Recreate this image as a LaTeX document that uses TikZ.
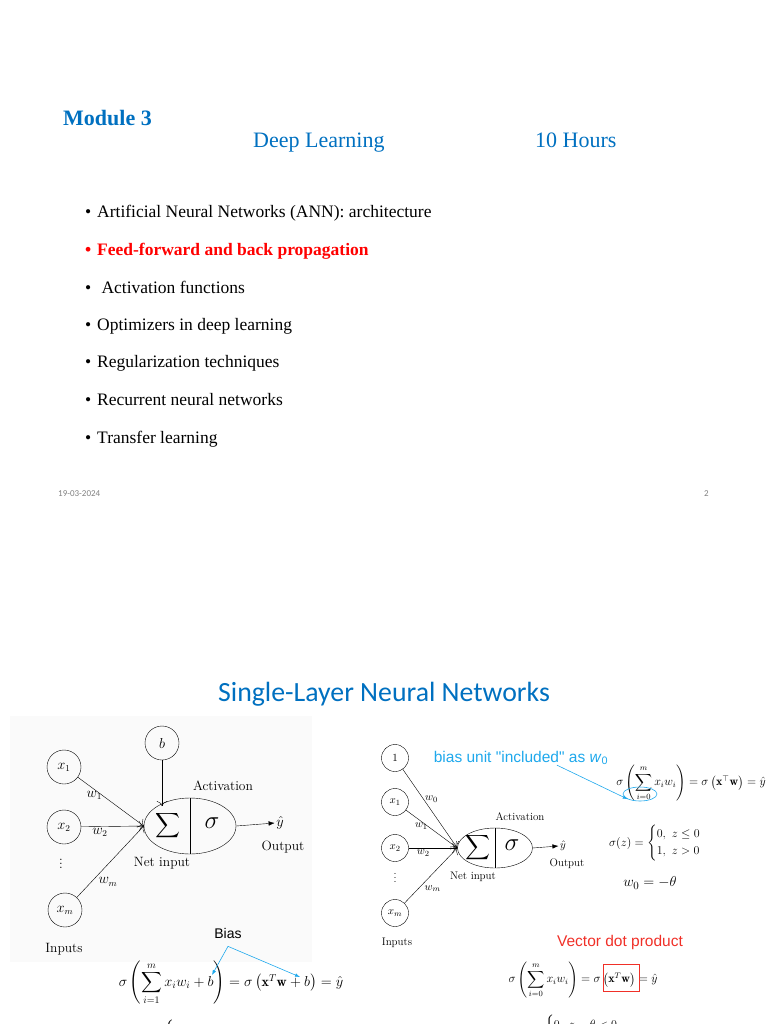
\documentclass[tikz,border=0pt]{standalone}
\usepackage{amsmath}
\usepackage{fontspec}
\newfontfamily\timesfont{Liberation Serif}
\newfontfamily\calibrifont{Carlito}
\newfontfamily\arialfont{Liberation Sans}
\usetikzlibrary{arrows.meta,positioning,shapes.geometric}
\definecolor{slideblue}{RGB}{0,112,192}
\definecolor{noteblue}{RGB}{30,168,236}
\definecolor{notered}{RGB}{240,48,40}
\newcommand\itembullet{\makebox[12pt][l]{\textbullet}}
\tikzset{
    slide/.style       = {x=1pt, y=-1pt},
    heading/.style     = {anchor=base west, inner sep=0pt, text=slideblue,
                          font=\timesfont\fontsize{22}{26}\selectfont},
    item/.style        = {anchor=base west, inner sep=0pt,
                          font=\timesfont\fontsize{17.5}{20}\selectfont},
    footer/.style      = {anchor=base west, inner sep=0pt, text=black!50,
                          font=\calibrifont\fontsize{9}{10}\selectfont},
    title/.style       = {text=slideblue, inner sep=0pt,
                          font=\calibrifont\fontsize{27.8}{32}\selectfont},
    unitL/.style       = {draw, circle, thin, minimum size=34pt, inner sep=0pt,
                          font=\fontsize{13.5}{15}\selectfont},
    unitR/.style       = {draw, circle, thin, minimum size=27pt, inner sep=0pt,
                          font=\fontsize{11}{13}\selectfont},
    neuronL/.style     = {draw, ellipse, thin, inner sep=0pt,
                          minimum width=92pt, minimum height=56pt},
    neuronR/.style     = {draw, ellipse, thin, inner sep=0pt,
                          minimum width=75pt, minimum height=40pt},
    labL/.style        = {font=\fontsize{13.5}{15}\selectfont, inner sep=1.5pt},
    labR/.style        = {font=\fontsize{11}{13}\selectfont, inner sep=1.5pt},
    sumsign/.style     = {inner sep=0pt, font=\fontsize{19}{19}\selectfont},
    actsign/.style     = {inner sep=0pt, font=\fontsize{35}{35}\selectfont},
    feed/.style        = {thin, -{To[length=5pt]}},
    outarrow/.style    = {thin, -{Latex[length=6pt]}},
    note/.style        = {inner sep=0pt, font=\arialfont\fontsize{15.5}{18}\selectfont},
    pointer/.style     = {noteblue, semithick, -{Latex[length=5pt]}},
    eq/.style          = {inner sep=0pt, font=\fontsize{12}{14}\selectfont}
}

\begin{document}
\begin{tikzpicture}[slide]
\useasboundingbox (0,0) rectangle (768,1024);

% ================= Slide 2: module outline =================
\node[heading, font=\timesfont\bfseries\fontsize{22}{26}\selectfont] (module) at (63,126) {Module 3};
\node[heading] (topic) at (253,148) {Deep Learning};
\node[heading] (hours) at (535,148) {10 Hours};

\node[item] (item1) at (85,218) {\itembullet Artificial Neural Networks (ANN): architecture};
\node[item, text=red, font=\timesfont\bfseries\fontsize{17.5}{20}\selectfont] (item2) at (85,255)
    {\itembullet Feed-forward and back propagation};
\node[item] (item3) at (85,293) {\itembullet\ Activation functions};
\node[item] (item4) at (85,330) {\itembullet Optimizers in deep learning};
\node[item] (item5) at (85,367) {\itembullet Regularization techniques};
\node[item] (item6) at (85,405) {\itembullet Recurrent neural networks};
\node[item] (item7) at (85,443) {\itembullet Transfer learning};

\node[footer] (date) at (58,496) {19-03-2024};
\node[footer] (page) at (704,496) {2};

% ================= Slide 3: title =================
\node[title] (slidetitle) at (384,694) {Single-Layer Neural Networks};
\fill[black!2] (10,716) rectangle (312,962);

% ================= Left neuron (explicit bias) =================
\node[unitL] (x1L) at (64,767) {$x_1$};
\node[unitL] (x2L) at (64,827) {$x_2$};
\node[labL] (dotsL) at (61,861) {$\vdots$};
\node[unitL] (xmL) at (65,910) {$x_m$};
\node[unitL] (bL) at (162,743) {$b$};

\node[neuronL] (netL) at (190,826) {};
\draw[thin] (netL.north) -- (netL.south);
\node[sumsign] (sumL) at (168,826) {$\displaystyle\sum$};
\node[actsign] (actL) at (212,823) {$\sigma$};

\draw[feed] (x1L) -- (netL.west) node[labL, pos=0.25, below] {$w_1$};
\draw[feed] (x2L) -- (netL.west) node[labL, pos=0.3, below] {$w_2$};
\draw[feed] (xmL) -- (netL.west) node[labL, pos=0.3, below right] {$w_m$};
\draw[feed] (bL) -- (bL |- netL.north west);

\node[labL] (yhatL) at (280,823) {$\hat{y}$};
\draw[outarrow] (netL.east) -- (yhatL.west);

\node[labL] (actlabL) at (223,786) {Activation};
\node[labL] (outlabL) at (283,847) {Output};
\node[labL] (netlabL) at (162,863) {Net input};
\node[labL] (inlabL) at (64,949) {Inputs};

% ================= Right neuron (bias as w0) =================
\node[unitR] (oneR) at (395,758) {$1$};
\node[unitR] (x1R) at (395,802) {$x_1$};
\node[unitR] (x2R) at (395,848) {$x_2$};
\node[labR] (dotsR) at (395,875) {$\vdots$};
\node[unitR] (xmR) at (395,913) {$x_m$};

\node[neuronR] (netR) at (495,848) {};
\draw[thin] (netR.north) -- (netR.south);
\node[sumsign] (sumR) at (478,848) {$\displaystyle\sum$};
\node[actsign, font=\fontsize{30}{30}\selectfont] (actR) at (512,845) {$\sigma$};

\draw[feed] (oneR) -- (netR.west) node[labR, pos=0.38, right] {$w_0$};
\draw[feed] (x1R) -- (netR.west) node[labR, pos=0.3, below] {$w_1$};
\draw[feed] (x2R) -- (netR.west) node[labR, pos=0.3, below] {$w_2$};
\draw[feed] (xmR) -- (netR.west) node[labR, pos=0.35, below right] {$w_m$};

\node[labR] (yhatR) at (563,846) {$\hat{y}$};
\draw[outarrow] (netR.east) -- (yhatR.west);

\node[labR] (actlabR) at (520,817) {Activation};
\node[labR] (outlabR) at (567,864) {Output};
\node[labR] (netlabR) at (473,877) {Net input};
\node[labR] (inlabR) at (397,943) {Inputs};

% ================= Right equations =================
\node[eq] (eqsum) at (691,783)
    {$\sigma\left(\displaystyle\sum_{i=0}^{m} x_i w_i\right) = \sigma\left(\mathbf{x}^{\top}\mathbf{w}\right) = \hat{y}$};
\node[eq] (eqstep) at (661,843)
    {$\sigma(z) = \begin{cases} 0, \ z \le 0\\ 1, \ z > 0\end{cases}$};
\node[eq, font=\fontsize{15}{17}\selectfont] (eqtheta) at (650,883) {$w_0 = -\theta$};

\node[note, text=noteblue] (biasnote) at (521,758) {bias unit "included" as \textit{w}\textsubscript{0}};
\node[draw=noteblue, semithick, ellipse, minimum width=34pt, minimum height=14pt] (idxmark) at (640,794) {};
\draw[pointer] ([xshift=36pt]biasnote.south) -- (idxmark.south west);

% ================= Bottom equations =================
\node[note, text=black, font=\arialfont\fontsize{14}{16}\selectfont] (biasL) at (228,933) {Bias};
\node[eq, font=\fontsize{14}{16}\selectfont] (eqbias) at (231,983)
    {$\sigma\left(\displaystyle\sum_{i=1}^{m} x_i w_i + b\right) = \sigma\left(\mathbf{x}^{T}\mathbf{w} + b\right) = \hat{y}$};
\coordinate[below=8pt of biasL] (biasfork);
\coordinate (bsum) at (212,975);
\coordinate (bvec) at (300,977);
\draw[pointer] (biasfork) -- (bsum);
\draw[pointer] (biasfork) -- (bvec);

\node[note, text=notered] (dotnote) at (620,942) {Vector dot product};
\node[eq] (eqdot) at (583,980)
    {$\sigma\left(\displaystyle\sum_{i=0}^{m} x_i w_i\right) = \sigma\left(\mathbf{x}^{T}\mathbf{w}\right) = \hat{y}$};
\node[draw=notered, semithick, minimum width=36pt, minimum height=27pt] (dotbox) at (621,978) {};

\node[eq, anchor=north west] (stepL) at (126,1020)
    {$\sigma(z) = \begin{cases} 0, \ z - \theta < 0\\ 1, \ z - \theta \ge 0\end{cases}$};
\node[eq, anchor=north west] (stepR) at (506,1015)
    {$\sigma(z) = \begin{cases} 0, \ z - \theta < 0\\ 1, \ z - \theta \ge 0\end{cases}$};

\end{tikzpicture}
\end{document}
